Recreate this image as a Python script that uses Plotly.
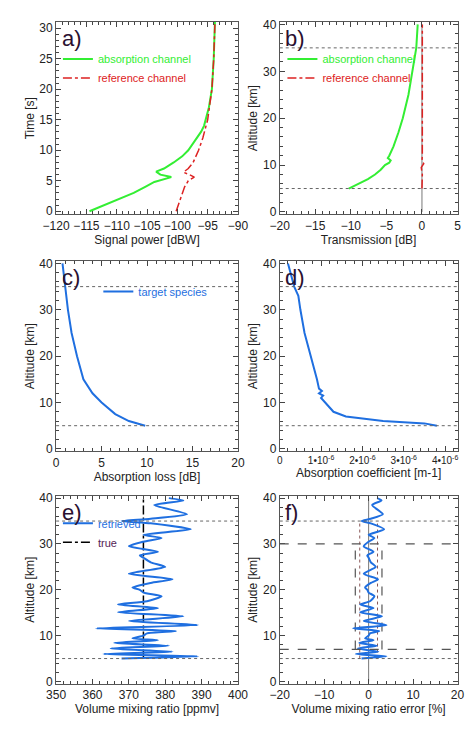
import plotly.graph_objects as go

# a) signal power vs time
t_abs = [0, 1, 2, 3, 4, 4.8, 5.6, 6.0, 6.5, 7, 8, 9, 10, 11, 12, 13, 14, 16, 17, 20, 25, 31]
p_abs = [-114.5, -112, -109.5, -107.2, -105.3, -103.8, -101.0, -102.8, -103.5, -102.2, -100.6, -99.2, -98.2, -97.5, -96.8, -96.1, -95.6, -95.1, -94.8, -94.3, -94.0, -93.8]
t_ref = [0, 2, 4, 5, 5.6, 6.0, 6.4, 7, 8, 10, 12, 15, 20, 25, 31]
p_ref = [-100.2, -99.5, -98.8, -98.2, -97.2, -98.0, -99.0, -98.2, -97.4, -96.5, -95.8, -95.0, -94.3, -94.0, -93.8]

# b) transmission vs altitude
z_tabs = [5, 6, 7, 8, 9, 10, 10.5, 11, 11.5, 12, 14, 17, 20, 25, 30, 35, 40]
tr_abs = [-10.3, -9.0, -7.6, -6.6, -5.8, -5.2, -4.6, -4.4, -4.8, -4.6, -4.0, -3.3, -2.7, -1.9, -1.3, -0.8, -0.6]
z_tref = [5, 8, 9.5, 10.3, 11, 12, 20, 30, 40]
tr_ref = [0.0, 0.05, -0.1, 0.25, 0.0, 0.05, 0.05, 0.05, 0.05]

# c) absorption loss
z_loss = [5, 6, 7.5, 10, 12, 15, 20, 25, 30, 35, 40]
loss = [9.8, 8.0, 6.5, 5.0, 4.0, 3.0, 2.3, 1.7, 1.3, 1.0, 0.7]

# d) absorption coefficient
z_coef = [5, 5.5, 6, 6.5, 7, 8, 10, 11, 11.5, 12, 12.5, 13, 15, 20, 25, 30, 33, 35, 38, 40]
coef = [3.8e-6, 3.5e-6, 2.5e-6, 2.0e-6, 1.6e-6, 1.3e-6, 1.1e-6, 1.0e-6, 1.05e-6, 0.95e-6, 1.02e-6, 0.95e-6, 0.9e-6, 0.75e-6, 0.6e-6, 0.5e-6, 0.45e-6, 0.35e-6, 0.25e-6, 0.2e-6]
coef_ticks = [0, 1e-6, 2e-6, 3e-6, 4e-6]
coef_labels = ['0', '1•10<sup>-6</sup>', '2•10<sup>-6</sup>', '3•10<sup>-6</sup>', '4•10<sup>-6</sup>']

# e) retrieved vmr
z_vmr = [5, 5.5, 6, 6.5, 7.2, 7.8, 8.4, 9, 9.4, 10, 10.5, 11, 11.6, 12.3, 13.2, 14.2, 15.1, 16, 16.8, 17.5, 18.6, 19.4, 20, 20.5,
         21.5, 22.3, 23.5, 25, 26, 27, 27.5, 28.3, 29.5, 30.5, 31.3, 32, 33.2, 34.5, 35, 35.5, 36.5, 38.5, 39.5, 40]
vmr = [368, 389, 363, 382, 365, 381, 366, 378, 371, 374, 375, 383, 361, 389, 370, 385, 367, 378, 367, 375, 379, 374, 373, 371,
       376, 382, 370, 380, 376, 374, 373, 378, 370, 374, 379, 374, 387, 376, 368, 376, 386, 377, 385, 381]
true_vmr = 374

# f) vmr error [%]
vmr_err = [-1.6, 4.0, -2.9, 2.2, -2.4, 1.9, -2.1, 1.1, -0.8, 0.0, 0.3, 2.4, -3.5, 4.0, -1.1, 3.0, -1.9, 1.1, -1.9, 0.3, 1.3, 0.0, -0.3, -0.8,
           0.5, 2.1, -1.1, 1.6, 0.5, 0.0, -0.3, 1.1, -1.1, 0.0, 1.3, 0.0, 3.5, 0.5, -1.6, 0.5, 3.2, 0.8, 2.9, 1.9]

blue = '#1f6fe0'
green = '#33ee33'
red = '#dd2222'

fig = go.Figure()

xd = [[0.076, 0.481], [0.574, 0.97]]
yd = [[0.719, 0.986], [0.39, 0.654], [0.067, 0.328]]

ax = {}
n = 0
for r in range(3):
    for c in range(2):
        n += 1
        s = '' if n == 1 else str(n)
        ax[n] = ('x' + s, 'y' + s)
        common = dict(showgrid=False, zeroline=False, mirror='allticks', ticks='inside', ticklen=5,
                      showline=True, linecolor='#555', linewidth=1, tickfont=dict(size=12, color='#222'),
                      minor=dict(ticks='inside', ticklen=3, nticks=6), title_standoff=2)
        fig.layout['xaxis' + s] = dict(domain=xd[c], anchor='y' + s, **common)
        fig.layout['yaxis' + s] = dict(domain=yd[r], anchor='x' + s, **common)

def add(n, x, y, **kw):
    fig.add_trace(go.Scatter(x=x, y=y, mode='lines', xaxis=ax[n][0], yaxis=ax[n][1], **kw))

add(1, p_abs, t_abs, line=dict(color=green, width=2), name="<span style='color:#33ee33'>absorption channel</span>", legend='legend')
add(1, p_ref, t_ref, line=dict(color=red, width=1.5, dash='dashdot'), name="<span style='color:#dd2222'>reference channel</span>", legend='legend')
add(2, [0, 0], [0, 40], line=dict(color='#777', width=1), showlegend=False)
add(2, tr_abs, z_tabs, line=dict(color=green, width=2), name="<span style='color:#33ee33'>absorption channel</span>", legend='legend2')
add(2, tr_ref, z_tref, line=dict(color=red, width=1.5, dash='dashdot'), name="<span style='color:#dd2222'>reference channel</span>", legend='legend2')
add(3, loss, z_loss, line=dict(color=blue, width=2), name="<span style='color:#1f6fe0'>target species</span>", legend='legend3')
add(4, coef, z_coef, line=dict(color=blue, width=2), showlegend=False)
add(5, [true_vmr, true_vmr], [5, 40], line=dict(color='black', width=1.5, dash='dashdot'), name="<span style='color:#552255'>true</span>", legend='legend5')
add(5, vmr, z_vmr, line=dict(color=blue, width=2, shape='spline', smoothing=0.6), name="<span style='color:#1f6fe0'>retrieved</span>", legend='legend5')
add(6, [0, 0], [0, 40], line=dict(color='#777', width=1), showlegend=False)
add(6, [-3, -3], [7, 30], line=dict(color='#555', width=1.2, dash='dash'), showlegend=False)
add(6, [3, 3], [7, 30], line=dict(color='#555', width=1.2, dash='dash'), showlegend=False)
add(6, [-2, -2], [5, 35], line=dict(color='#855', width=1, dash='dot'), showlegend=False)
add(6, [2, 2], [5, 35], line=dict(color='#855', width=1, dash='dot'), showlegend=False)
add(6, vmr_err, z_vmr, line=dict(color=blue, width=2, shape='spline', smoothing=0.6), showlegend=False)

# horizontal reference lines
for k in [2, 3, 4, 5, 6]:
    for h in [5, 35]:
        fig.add_shape(type='line', xref=ax[k][0] + ' domain', yref=ax[k][1], x0=0, x1=1, y0=h, y1=h,
                      line=dict(color='#666', width=1, dash='dot'))
for h in [7, 30]:
    fig.add_shape(type='line', xref='x6 domain', yref='y6', x0=0, x1=1, y0=h, y1=h,
                  line=dict(color='#555', width=1.2, dash='dash'))

ranges = {1: ([-120, -90], [-0.5, 31]), 2: ([-20, 5], [-0.5, 40.5]), 3: ([0, 20], [-0.5, 40.5]),
          4: ([0, 4.3e-6], [-0.5, 40.5]), 5: ([350, 400], [-0.5, 40.5]), 6: ([-20, 20], [-0.5, 40.5])}
xtitles = {1: 'Signal power [dBW]', 2: 'Transmission [dB]', 3: 'Absorption loss [dB]',
           4: 'Absorption coefficient [m-1]', 5: 'Volume mixing ratio [ppmv]', 6: 'Volume mixing ratio error [%]'}
ytitles = {1: 'Time [s]'}
dticks = {1: (5, 5), 2: (5, 10), 3: (5, 10), 5: (10, 10), 6: (10, 10)}
for k in range(1, 7):
    s = '' if k == 1 else str(k)
    fig.layout['xaxis' + s].update(range=ranges[k][0], title=dict(text=xtitles[k], font=dict(size=12)))
    fig.layout['yaxis' + s].update(range=ranges[k][1], title=dict(text=ytitles.get(k, 'Altitude [km]'), font=dict(size=12)),
                                   dtick=dticks.get(k, (5, 10))[1])
    if k != 4:
        fig.layout['xaxis' + s].update(dtick=dticks[k][0])
fig.layout.xaxis4.update(tickvals=coef_ticks, ticktext=coef_labels, tickfont=dict(size=10))

labels = ['a)', 'b)', 'c)', 'd)', 'e)', 'f)']
for k in range(1, 7):
    fig.add_annotation(text=labels[k - 1], xref=ax[k][0] + ' domain', yref=ax[k][1] + ' domain',
                       x=0.02, y=0.99, xanchor='left', yanchor='top', showarrow=False,
                       font=dict(size=22, color='#2a1030'))

leg = dict(bgcolor='rgba(0,0,0,0)', font=dict(size=11), tracegroupgap=0, itemwidth=30,
           xanchor='left', yanchor='top')
fig.update_layout(
    legend=dict(x=0.08, y=0.955, **leg),
    legend2=dict(x=0.58, y=0.955, **leg),
    legend3=dict(x=0.17, y=0.632, **leg),
    legend5=dict(x=0.08, y=0.31, traceorder='reversed', **leg),
    width=474, height=729,
    margin=dict(l=0, r=0, t=0, b=0),
    paper_bgcolor='white', plot_bgcolor='white',
    font=dict(family='Liberation Sans, Arial', color='#222'),
)

fig.write_html('out.html')
